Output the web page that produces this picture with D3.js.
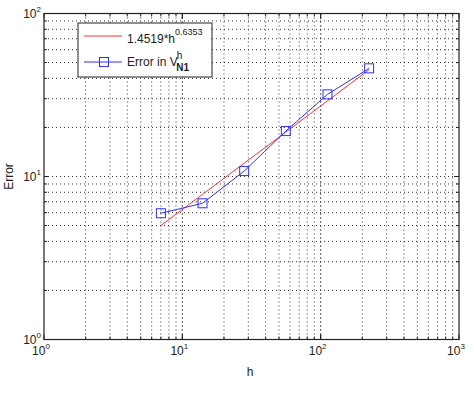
<!DOCTYPE html>
<html><head><meta charset="utf-8">
<script src="https://cdn.jsdelivr.net/npm/d3@7"></script>
<style>body{margin:0;background:#fff}svg{display:block}text{font-family:"Liberation Sans",Arial,sans-serif;fill:#222}</style>
</head><body><svg id="c" width="474" height="397"></svg>
<script>
const hValues = [7, 14, 28, 56, 112, 224];
const errorValues = [5.95, 6.85, 10.8, 19.0, 31.9, 46.1];
const fitValues = [5.00, 7.77, 12.07, 18.74, 29.11, 45.22];
const xTickExps = [0, 1, 2, 3];
const yTickExps = [0, 1, 2];
const fitLabel = {base: "1.4519*h", sup: "0.6353"};
const seriesLabel = {base: "Error in V", sup: "h", sub: "N1"};

const svg = d3.select("#c");
const L = 44, R = 459, T = 13.5, B = 339.5;
const x = d3.scaleLog().domain([1, 1000]).range([L, R]);
const y = d3.scaleLog().domain([1, 100]).range([B, T]);

const minorX = [], minorY = [];
for (let e = 0; e < 3; e++) for (let k = 1; k <= 10; k++) minorX.push(k * Math.pow(10, e));
for (let e = 0; e < 2; e++) for (let k = 1; k <= 10; k++) minorY.push(k * Math.pow(10, e));

const g = svg.append("g");
g.selectAll(".gx").data(minorX.filter(v => v > 1 && v < 1000)).enter().append("line")
  .attr("x1", d => x(d)).attr("x2", d => x(d)).attr("y1", T).attr("y2", B)
  .attr("stroke", "#333").attr("stroke-width", 1).attr("stroke-dasharray", "1,3");
g.selectAll(".gy").data(minorY.filter(v => v > 1 && v < 100)).enter().append("line")
  .attr("y1", d => y(d)).attr("y2", d => y(d)).attr("x1", L).attr("x2", R)
  .attr("stroke", "#333").attr("stroke-width", 1).attr("stroke-dasharray", "1,3");

const isMajor = v => Math.abs(Math.log10(v) - Math.round(Math.log10(v))) < 1e-9;
minorX.forEach(v => {
  const len = isMajor(v) ? 5 : 3;
  g.append("line").attr("x1", x(v)).attr("x2", x(v)).attr("y1", B).attr("y2", B - len).attr("stroke", "#222");
  g.append("line").attr("x1", x(v)).attr("x2", x(v)).attr("y1", T).attr("y2", T + len).attr("stroke", "#222");
});
minorY.forEach(v => {
  const len = isMajor(v) ? 5 : 3;
  g.append("line").attr("y1", y(v)).attr("y2", y(v)).attr("x1", L).attr("x2", L + len).attr("stroke", "#222");
  g.append("line").attr("y1", y(v)).attr("y2", y(v)).attr("x1", R).attr("x2", R - len).attr("stroke", "#222");
});
g.append("rect").attr("x", L).attr("y", T).attr("width", R - L).attr("height", B - T)
  .attr("fill", "none").attr("stroke", "#222").attr("stroke-width", 1.2);

xTickExps.forEach(e => {
  const t = svg.append("text").attr("x", x(Math.pow(10, e)) - 3).attr("y", 355).attr("text-anchor", "middle").attr("font-size", 12).attr("fill", "#222");
  t.append("tspan").text("10");
  t.append("tspan").text(e).attr("dy", -6).attr("font-size", 8);
});
yTickExps.forEach(e => {
  const t = svg.append("text").attr("x", 41).attr("y", y(Math.pow(10, e)) + 4).attr("text-anchor", "end").attr("font-size", 12).attr("fill", "#222");
  t.append("tspan").text("10");
  t.append("tspan").text(e).attr("dy", -6).attr("font-size", 8);
});
svg.append("text").attr("x", 250).attr("y", 376).attr("text-anchor", "middle").attr("font-size", 12).attr("fill", "#222").text("h");
svg.append("text").attr("transform", `translate(13,${(T + B) / 2}) rotate(-90)`).attr("text-anchor", "middle").attr("font-size", 12).attr("fill", "#222").text("Error");

const line = d3.line().x(d => x(d[0])).y(d => y(d[1]));
svg.append("path").datum(hValues.map((h, i) => [h, fitValues[i]])).attr("d", line)
  .attr("fill", "none").attr("stroke", "#ff3030").attr("stroke-width", 1);
svg.append("path").datum(hValues.map((h, i) => [h, errorValues[i]])).attr("d", line)
  .attr("fill", "none").attr("stroke", "#3030ff").attr("stroke-width", 1);
svg.selectAll(".m").data(hValues.map((h, i) => [h, errorValues[i]])).enter().append("rect")
  .attr("x", d => x(d[0]) - 4.5).attr("y", d => y(d[1]) - 4.5).attr("width", 9).attr("height", 9)
  .attr("fill", "none").attr("stroke", "#3030ff").attr("stroke-width", 1);

const lg = svg.append("g");
lg.append("rect").attr("x", 78).attr("y", 23).attr("width", 134).attr("height", 54)
  .attr("fill", "#fff").attr("stroke", "#222").attr("stroke-width", 1);
lg.append("line").attr("x1", 84).attr("x2", 122).attr("y1", 36).attr("y2", 36).attr("stroke", "#ff3030");
const t1 = lg.append("text").attr("x", 127).attr("y", 43).attr("font-size", 12).attr("fill", "#222");
t1.append("tspan").text(fitLabel.base);
t1.append("tspan").text(fitLabel.sup).attr("dy", -8).attr("font-size", 9);
lg.append("line").attr("x1", 84).attr("x2", 122).attr("y1", 62).attr("y2", 62).attr("stroke", "#3030ff");
lg.append("rect").attr("x", 99.5).attr("y", 57.5).attr("width", 9).attr("height", 9).attr("fill", "none").attr("stroke", "#3030ff");
const t2 = lg.append("text").attr("x", 127).attr("y", 66).attr("font-size", 12).attr("fill", "#222");
t2.append("tspan").text(seriesLabel.base);
t2.append("tspan").text(seriesLabel.sup).attr("dx", -1).attr("dy", -7).attr("font-size", 10);
t2.append("tspan").text(seriesLabel.sub).attr("dx", -6).attr("dy", 12).attr("font-size", 10).attr("font-weight", "bold");
</script></body></html>
